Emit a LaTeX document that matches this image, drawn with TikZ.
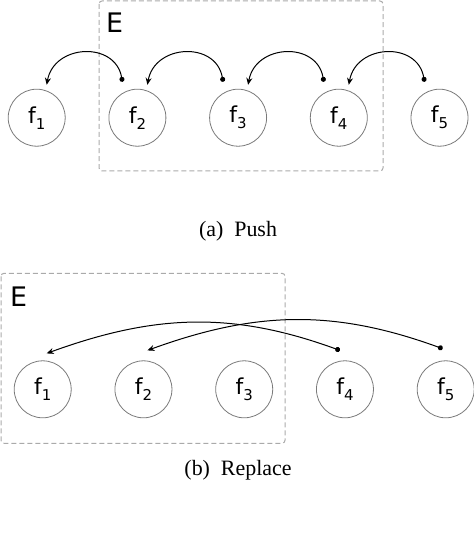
\documentclass[tikz,border=0pt]{standalone}
\usepackage{fontspec}
\setmainfont{Liberation Serif}
\newfontfamily\labelfont{DejaVu Sans}
\usetikzlibrary{arrows.meta,calc}

\definecolor{circgray}{HTML}{7A7A7A}
\definecolor{boxgray}{HTML}{AAAAAA}

\newcommand{\fsub}[1]{f\raisebox{-6bp}{\fontsize{15}{15}\selectfont #1}}

\begin{document}
\begin{tikzpicture}[x=1bp,y=1bp,
        func/.style={circle,draw=circgray,line width=0.8bp,minimum size=57bp,inner sep=0pt,
            font=\labelfont\fontsize{22}{22}\selectfont},
        ebox/.style={draw=boxgray,dash pattern=on 5bp off 3bp,rounded corners=3bp,line width=1bp},
        elabel/.style={anchor=base west,inner sep=0pt,font=\labelfont\fontsize{27}{27}\selectfont},
        move/.style={{Circle[length=5bp]}-{Stealth[length=7bp,width=6bp]},line width=1bp},
        caption/.style={anchor=base,inner sep=0pt,font=\fontsize{22}{22}\selectfont}
        ]
        \useasboundingbox (0,0) rectangle (474,-538);
        % Push
        \draw[ebox] (99,-1) rectangle (383,-171);
        \node[elabel] (eP) at (106,-33) {E};
        \foreach \i in {1,...,5}
            \node[func] (p\i) at ({36.7+(\i-1)*100.7},-117.7) {\fsub{\i}};
        \foreach \s/\t in {2/1,3/2,4/3,5/4}
            \draw[move] ($(p\s.north)+(-15,7)$) to[out=100,in=80,looseness=1.4] ($(p\t.north)+(10,4)$);
        \node[caption] (capP) at (238,-236.5) {(a)~~Push};

        % Replace
        \draw[ebox] (1,-273.3) rectangle (285,-443.3);
        \node[elabel] (eR) at (10,-306.7) {E};
        \foreach \i in {1,...,5}
            \node[func] (r\i) at ({42.7+(\i-1)*100.75},-389.3) {\fsub{\i}};
        \draw[move] ($(r4.north)+(-5,10)$) to[out=160,in=20] ($(r1.north)+(4,7)$);
        \draw[move] ($(r5.north)+(-3,11.7)$) to[out=160,in=20] ($(r2.north)+(4,10)$);
        \node[caption] (capR) at (238,-475) {(b)~~Replace};
    \end{tikzpicture}
\end{document}
